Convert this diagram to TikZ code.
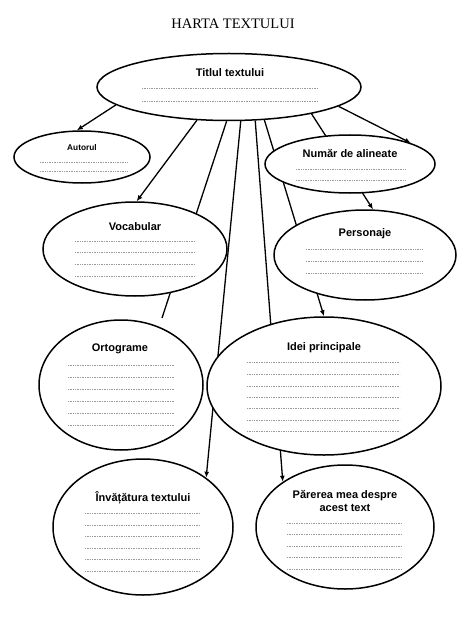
\documentclass[tikz,border=0pt]{standalone}
\usepackage{fontspec}
\setmainfont{Liberation Serif}
\newfontfamily\lblfont{Liberation Sans}
\usetikzlibrary{shapes.geometric,arrows.meta}
\pgfdeclarelayer{bg}
\pgfsetlayers{bg,main}
\tikzset{
  bubble/.style={draw, shape=ellipse, line width=1.5pt, fill=white, inner sep=0pt},
  lbl/.style={font=\lblfont\bfseries\fontsize{11}{13}\selectfont, inner sep=0pt, align=center},
  smalllbl/.style={font=\lblfont\bfseries\fontsize{8.3}{10}\selectfont, inner sep=0pt},
  dots/.style={draw=black!40, line width=0.4pt, dash pattern=on 0.6pt off 1.1pt},
  conn/.style={line width=1.3pt},
  arr/.style={conn, -{Latex[length=6pt,width=5pt]}},
}
\begin{document}
\begin{tikzpicture}[x=1pt,y=-1pt]
\useasboundingbox (0,0) rectangle (474,631);
% title
\node[font=\fontsize{14.5}{16}\selectfont, inner sep=0pt] (title) at (233,24) {HARTA TEXTULUI};

% ellipses
\node[bubble, minimum width=264pt, minimum height=67pt] (main) at (229,87) {};
\node[bubble, minimum width=136pt, minimum height=52pt] (aut) at (82,157) {};
\node[bubble, minimum width=170pt, minimum height=58pt] (nr) at (350,164) {};
\node[bubble, minimum width=184pt, minimum height=94pt] (voc) at (135,249) {};
\node[bubble, minimum width=182pt, minimum height=90pt] (pers) at (365,255) {};
\node[bubble, minimum width=164pt, minimum height=130pt] (orto) at (121,385) {};
\node[bubble, minimum width=234pt, minimum height=138pt] (idei) at (324,386) {};
\node[bubble, minimum width=180pt, minimum height=136pt] (inv) at (143,527) {};
\node[bubble, minimum width=178pt, minimum height=124pt] (par) at (345,527) {};

% labels
\node[lbl] (tmain) at (230,73) {Titlul textului};
\node[smalllbl] (taut) at (82,148) {Autorul};
\node[lbl] (tnr) at (350,154) {Număr de alineate};
\node[lbl] (tvoc) at (135,227) {Vocabular};
\node[lbl] (tpers) at (365,234) {Personaje};
\node[lbl] (torto) at (120,349) {Ortograme};
\node[lbl] (tidei) at (324,348) {Idei principale};
\node[lbl] (tinv) at (143,498) {Învățătura textului};
\node[lbl] (tpar) at (345,501) {Părerea mea despre\\acest text};

% dotted writing lines
\draw[dots] (142,88) -- (318,88);
\draw[dots] (142,101) -- (318,101);
\draw[dots] (40,162) -- (127,162);
\draw[dots] (40,171) -- (127,171);
\draw[dots] (296,169) -- (405,169);
\draw[dots] (296,180) -- (405,180);
\foreach \yy in {241,252,264,276} \draw[dots] (75,\yy) -- (195,\yy);
\foreach \yy in {249,261,273} \draw[dots] (306,\yy) -- (423,\yy);
\foreach \yy in {365,377,389,401,413,425} \draw[dots] (68,\yy) -- (175,\yy);
\foreach \yy in {362,374,386,397,408,420,431} \draw[dots] (247,\yy) -- (400,\yy);
\foreach \yy in {513,525,536,548,559,571} \draw[dots] (85,\yy) -- (200,\yy);
\foreach \yy in {523,534,546,557,569} \draw[dots] (287,\yy) -- (401,\yy);

% connectors (behind the ellipses)
\coordinate (ortEnd) at (162,318);
\begin{pgfonlayer}{bg}
\draw[arr] (main.189.5) -- (aut.101);
\draw[arr] (main.226.8) -- (voc.88);
\draw[conn] (main.266.7) -- (ortEnd);
\draw[arr] (main.289.4) -- (inv.38);
\draw[arr] (main.308.5) -- (par.144.5);
\draw[arr] (main.317.5) -- (idei.90);
\draw[arr] (main.342.2) -- (pers.80);
\draw[arr] (main.350.8) -- (nr.19.6);
\end{pgfonlayer}
\end{tikzpicture}
\end{document}
